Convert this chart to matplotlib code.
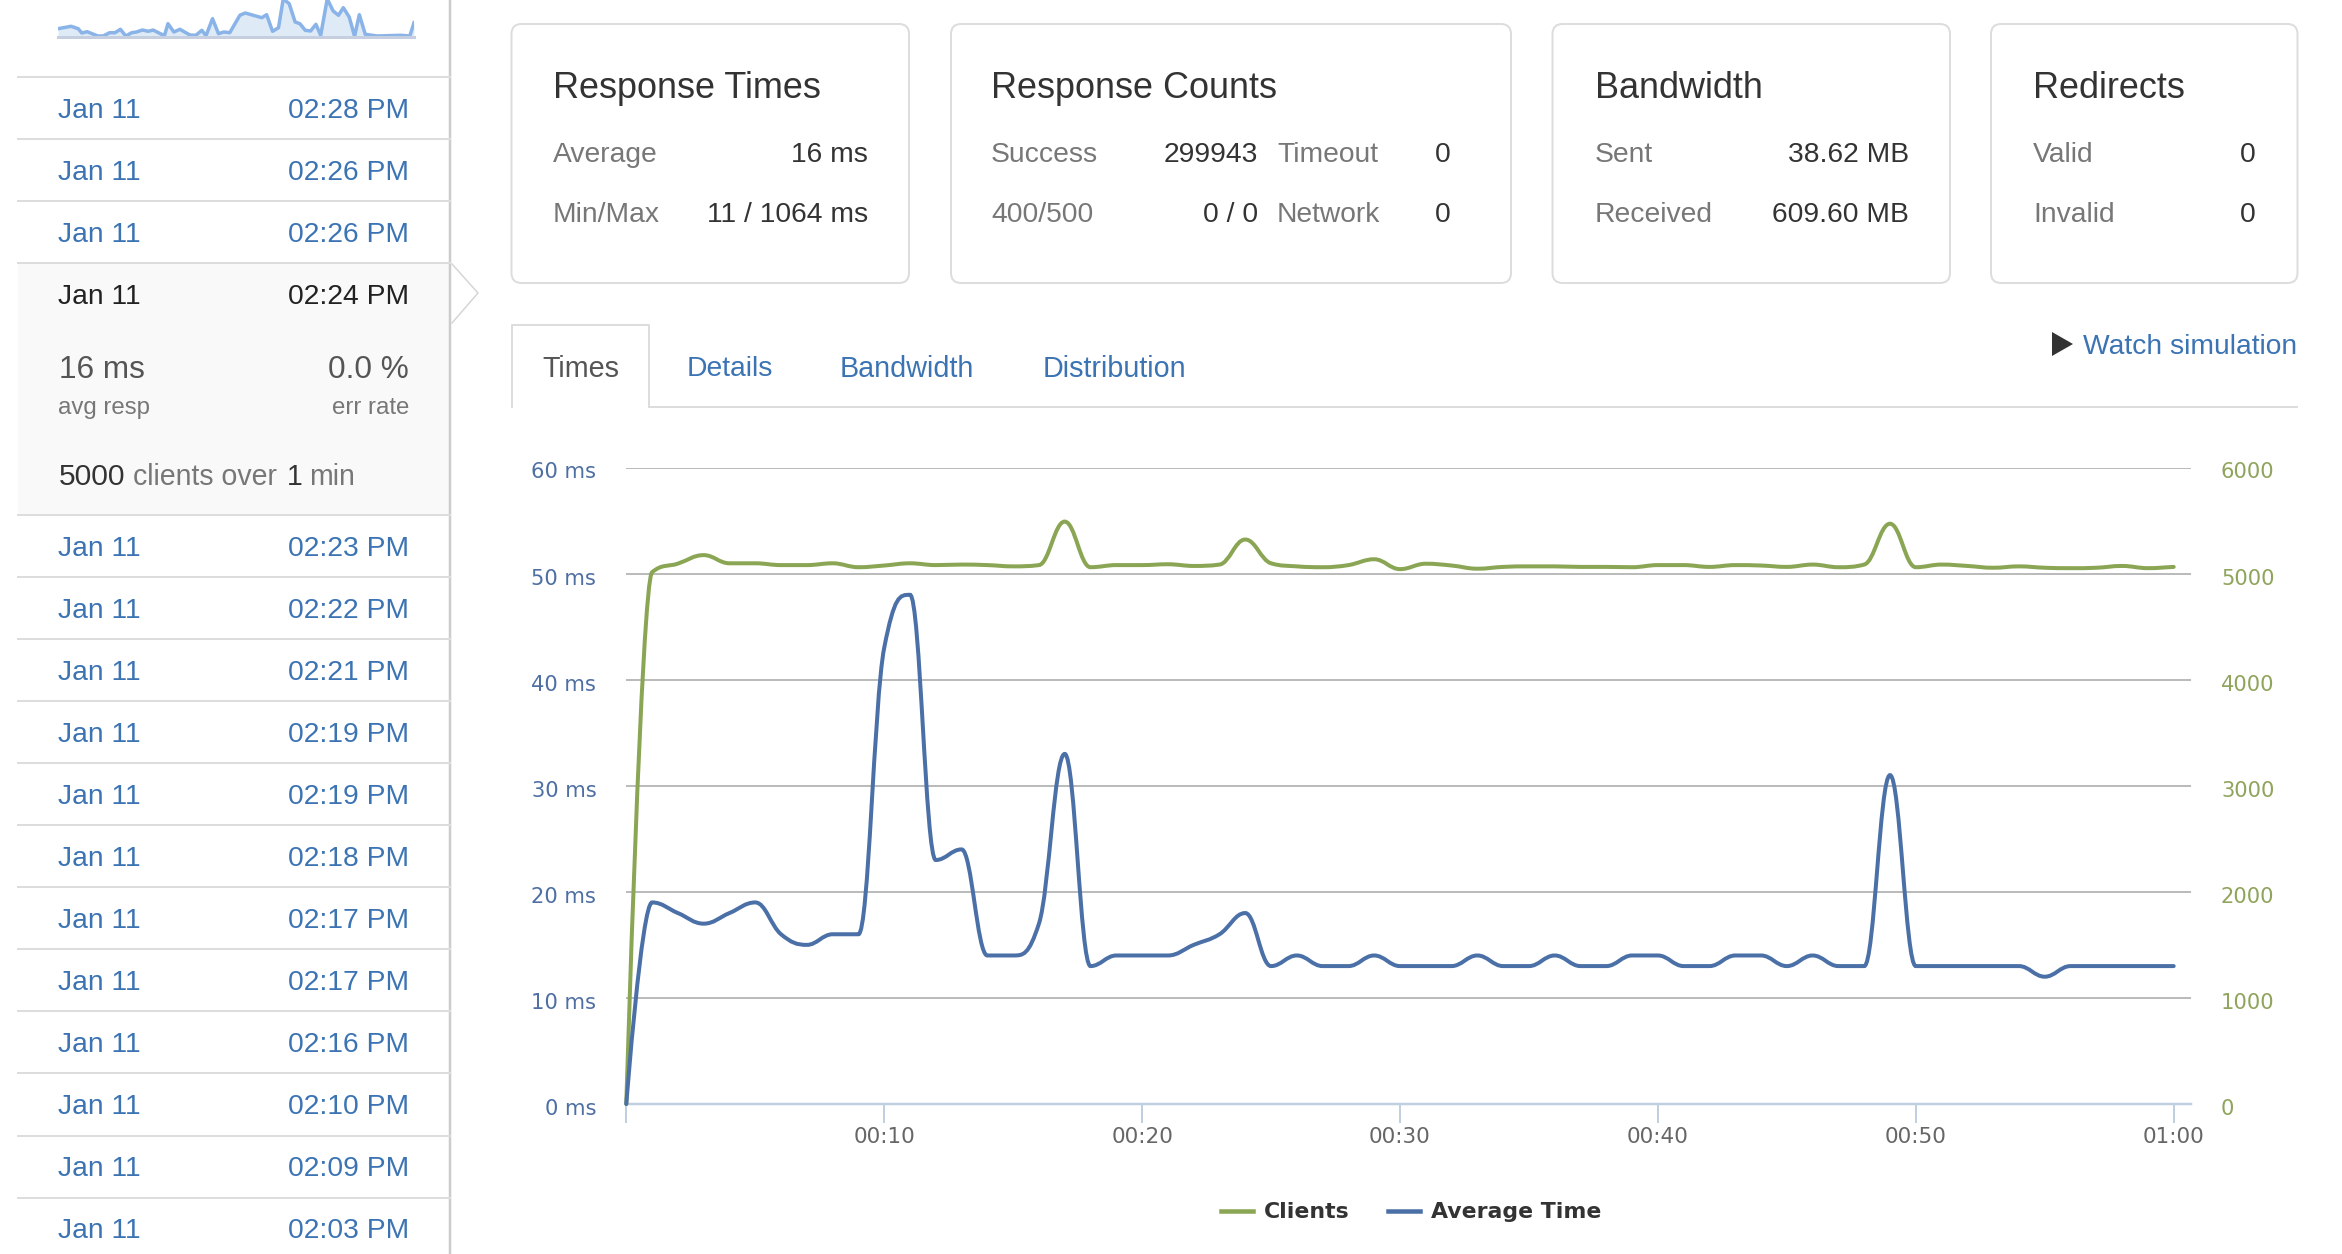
import matplotlib
matplotlib.use('Agg')
import matplotlib.pyplot as plt
from matplotlib.lines import Line2D
from matplotlib.patches import FancyBboxPatch, PathPatch, Polygon, Rectangle
from matplotlib.path import Path
from matplotlib.transforms import ScaledTranslation

W, H = 2342, 1254
BLUE = '#3c74b3'
DARK = '#333333'
GREY = '#777777'
LINE = '#dddddd'
GREEN_LINE = '#8aa553'
BLUE_LINE = '#4a70a7'

# one value per second, 0 to 60
seconds = list(range(61))
avg_time = [0, 19, 18, 17, 18, 19, 16, 15, 16, 16,
            43, 48, 23, 24, 14, 14, 17, 33, 13, 14,
            14, 14, 15, 16, 18, 13, 14, 13, 13, 14,
            13, 13, 13, 14, 13, 13, 14, 13, 13, 14,
            14, 13, 13, 14, 14, 13, 14, 13, 13, 31,
            13, 13, 13, 13, 13, 12, 13, 13, 13, 13, 13]
clients = [0, 5013, 5094, 5174, 5097, 5097, 5080, 5080, 5097, 5060,
           5076, 5097, 5080, 5085, 5080, 5068, 5080, 5490, 5060, 5080,
           5080, 5088, 5072, 5085, 5321, 5097, 5068, 5060, 5080, 5135,
           5042, 5093, 5076, 5046, 5063, 5068, 5068, 5063, 5063, 5060,
           5080, 5080, 5063, 5080, 5076, 5063, 5085, 5060, 5085, 5470,
           5060, 5085, 5072, 5055, 5068, 5055, 5051, 5055, 5072, 5051, 5063]

ms_ticks = [0, 10, 20, 30, 40, 50, 60]
client_ticks = [0, 1000, 2000, 3000, 4000, 5000, 6000]
time_ticks = [10, 20, 30, 40, 50, 60]
time_labels = ['00:10', '00:20', '00:30', '00:40', '00:50', '01:00']

# sparkline at the top of the sidebar
spark_t = [0, 2.2, 3.4, 4.0, 4.9, 6.7, 7.6, 8.7, 9.6, 10.5, 11.4, 12.4, 13.2, 14.2,
           15.2, 16.0, 17.9, 18.5, 19.5, 20.5, 22.2, 23.2, 24.2, 24.9, 26.0, 27.0,
           27.9, 28.9, 30.6, 31.5, 34.3, 35.1, 36.1, 37.1, 37.9, 38.9, 39.9, 40.7,
           41.6, 42.5, 43.4, 44.2, 45.3, 46.3, 47.2, 48.0, 49.0, 49.9, 50.7, 51.7,
           53.7, 57.6, 59.2, 59.9]
spark_v = [8.3, 10.7, 8.3, 4, 5.3, 1, 1, 4.3, 4.3, 7.7, 1, 4.3, 5, 7,
           5.7, 7, 1.3, 13.3, 5, 7.7, 2, 1.7, 6.7, 1.3, 18.3, 3.3,
           5, 4.3, 21.7, 24, 19.3, 22.3, 5.7, 9.3, 38, 33.3, 15, 13.3,
           6.7, 6, 12.7, 1.7, 38, 26, 21.7, 29.3, 20, 0.7, 22.3, 2.7,
           1, 1.7, 1, 14.3]

runs_before = ['02:28 PM', '02:26 PM', '02:26 PM']
run_selected = '02:24 PM'
runs_after = ['02:23 PM', '02:22 PM', '02:21 PM', '02:19 PM', '02:19 PM', '02:18 PM',
              '02:17 PM', '02:17 PM', '02:16 PM', '02:10 PM', '02:09 PM', '02:03 PM']
run_date = 'Jan 11'

plt.rcParams['font.family'] = ['Liberation Sans', 'DejaVu Sans']


def pt(px):
    return px * 0.72


def spline_path(xs, ys):
    # smooth curve through the points, flat at local peaks
    verts = [(xs[0], ys[0])]
    codes = [Path.MOVETO]
    right_prev = (xs[0], ys[0])
    for i in range(1, len(xs)):
        x, y = xs[i], ys[i]
        left_x, left_y = (1.5 * x + xs[i - 1]) / 2.5, (1.5 * y + ys[i - 1]) / 2.5
        right_x, right_y = x, y
        if i < len(xs) - 1:
            right_x, right_y = (1.5 * x + xs[i + 1]) / 2.5, (1.5 * y + ys[i + 1]) / 2.5
            fix = (right_y - left_y) * (right_x - x) / (right_x - left_x) + y - right_y
            left_y += fix
            right_y += fix
            if (left_y > ys[i - 1] and left_y > y) or (left_y < ys[i - 1] and left_y < y):
                left_y = max(ys[i - 1], y) if left_y > y else min(ys[i - 1], y)
                right_y = 2 * y - left_y
            if (right_y > ys[i + 1] and right_y > y) or (right_y < ys[i + 1] and right_y < y):
                right_y = max(ys[i + 1], y) if right_y > y else min(ys[i + 1], y)
                left_y = 2 * y - right_y
        verts += [right_prev, (left_x, left_y), (x, y)]
        codes += [Path.CURVE4] * 3
        right_prev = (right_x, right_y)
    return Path(verts, codes)


fig = plt.figure(figsize=(W / 100, H / 100), dpi=100, facecolor='white')

# page furniture is drawn in pixel coordinates
ui = fig.add_axes([0, 0, 1, 1])
ui.set_xlim(0, W)
ui.set_ylim(H, 0)
ui.axis('off')


def txt(x, y, s, size=28.3, color=DARK, ha='left', **kw):
    ui.text(x, y, s, fontsize=pt(size), color=color, ha=ha, va='center_baseline', **kw)


# sidebar
ui.add_patch(Rectangle((18, 263), 432, 252, fc='#f9f9f9', ec='none'))
ui.plot([450, 450], [0, H], color='#cccccc', lw=pt(2.5))
ui.plot([452, 478, 452], [264, 293, 323], color='#d5d5d5', lw=pt(1.5))
for y in [77, 139, 201, 263] + [515 + 62.05 * k for k in range(12)]:
    ui.plot([18, 450], [y, y], color=LINE, lw=pt(2))

for i, t in enumerate(runs_before):
    txt(58, 108 + 62 * i, run_date, color=BLUE)
    txt(409, 108 + 62 * i, t, color=BLUE, ha='right')
txt(58, 294, run_date, color='#222222')
txt(409, 294, run_selected, color='#222222', ha='right')
txt(59, 367, '16 ms', size=31.5, color='#555555')
txt(409, 367, '0.0 %', size=31.5, color='#555555', ha='right')
txt(58, 405.5, 'avg resp', size=24, color=GREY)
txt(409, 405.5, 'err rate', size=24, color=GREY, ha='right')
txt(59, 474, '5000', size=30)
txt(133, 474, 'clients over', size=28.5, color=GREY)
txt(287, 474, '1', size=28.5)
txt(309, 474, 'min', size=28.5, color=GREY)
for i, t in enumerate(runs_after):
    txt(58, 546 + 62 * i, run_date, color=BLUE)
    txt(409, 546 + 62 * i, t, color=BLUE, ha='right')

# summary cards
for x0, x1 in [(511.5, 909), (951, 1511), (1552.5, 1950), (1991, 2297.5)]:
    ui.add_patch(FancyBboxPatch((x0 + 10, 34), x1 - x0 - 20, 239, boxstyle='round,pad=10,rounding_size=10',
                                fc='white', ec=LINE, lw=pt(2)))

txt(553, 84, 'Response Times', size=36)
txt(553, 152, 'Average', color=GREY)
txt(868, 152, '16 ms', ha='right')
txt(553, 212, 'Min/Max', color=GREY)
txt(868, 212, '11 / 1064 ms', ha='right')

txt(991, 84, 'Response Counts', size=36)
txt(991, 152, 'Success', color=GREY)
txt(1258, 152, '299943', ha='right')
txt(1277, 152, 'Timeout', color=GREY)
txt(1451, 152, '0', ha='right')
txt(991, 212, '400/500', color=GREY)
txt(1258, 212, '0 / 0', ha='right')
txt(1277, 212, 'Network', color=GREY)
txt(1451, 212, '0', ha='right')

txt(1595, 84, 'Bandwidth', size=36)
txt(1595, 152, 'Sent', color=GREY)
txt(1909, 152, '38.62 MB', ha='right')
txt(1595, 212, 'Received', color=GREY)
txt(1909, 212, '609.60 MB', ha='right')

txt(2033, 84, 'Redirects', size=36)
txt(2033, 152, 'Valid', color=GREY)
txt(2256, 152, '0', ha='right')
txt(2033, 212, 'Invalid', color=GREY)
txt(2256, 212, '0', ha='right')

# tabs
ui.plot([649, 2297], [407, 407], color=LINE, lw=pt(2))
ui.plot([511.5, 511.5, 649, 649], [407, 325, 325, 407], color=LINE, lw=pt(2))
txt(542, 366, 'Times', size=28.8, color='#555555')
txt(687, 366, 'Details', size=28.3, color=BLUE)
txt(840, 366, 'Bandwidth', size=28.8, color=BLUE)
txt(1043, 366, 'Distribution', size=28.8, color=BLUE)
ui.add_patch(Polygon([(2052, 332), (2073, 344), (2052, 356)], closed=True, fc=DARK, ec='none'))
txt(2297, 344, 'Watch simulation', size=28.3, color=BLUE, ha='right')

# sparkline
spark = fig.add_axes([58 / W, 1 - 37 / H, 356 / W, 37 / H])
spark.patch.set_alpha(0)
spark.set_xlim(0, 59.9)
spark.set_ylim(0, 37)
spark.axis('off')
spark.fill_between(spark_t, spark_v, 0, color='#dfeaf7', lw=0)
spark.plot(spark_t, spark_v, color='#8ab4e8', lw=pt(3.5), clip_on=True)
spark.plot([0, 59.9], [0, 0], color='#c5cfe0', lw=pt(3), clip_on=False)

# main chart
x_left, x_right, y_top, y_zero = 626.3, 2191, 467.5, 1104
ax = fig.add_axes([x_left / W, 1 - y_zero / H, (x_right - x_left) / W, (y_zero - y_top) / H])
ax.patch.set_alpha(0)
ax.set_xlim(0, (x_right - x_left) / 25.79)
ax.set_ylim(0, 60)
for s in ['top', 'left', 'right']:
    ax.spines[s].set_visible(False)
ax.spines['bottom'].set_color('#c0d0e0')
ax.spines['bottom'].set_linewidth(pt(2.5))
ax.set_axisbelow(True)
ax.grid(axis='y', color='#bbbbbb', lw=pt(2))
ax.set_xticks(time_ticks, time_labels, family='DejaVu Sans', fontsize=pt(21.5), color='#666666')
ax.set_xticks([0], minor=True)
ax.tick_params(axis='x', which='both', length=pt(19), width=pt(2), color='#c0d0e0', pad=pt(4))
ax.set_yticks(ms_ticks, [f'{v} ms' for v in ms_ticks], family='DejaVu Sans', fontsize=pt(21), color='#4e6fa3')
ax.tick_params(axis='y', length=0, pad=pt(30))

ax2 = ax.twinx()
ax2.patch.set_alpha(0)
ax2.set_ylim(0, 6000)
for s in ax2.spines.values():
    s.set_visible(False)
ax2.set_yticks(client_ticks, [str(v) for v in client_ticks], family='DejaVu Sans', fontsize=pt(21), color='#8fa45c')
ax2.tick_params(axis='y', length=0, pad=pt(30))

# y labels sit a little below their gridlines
shift = ScaledTranslation(0, -3 / 100, fig.dpi_scale_trans)
for lab in ax.get_yticklabels() + ax2.get_yticklabels():
    lab.set_transform(lab.get_transform() + shift)

ax2.add_patch(PathPatch(spline_path(seconds, clients), fc='none', ec=GREEN_LINE, lw=pt(4), capstyle='round',
                        clip_on=False, zorder=3))
ax3 = ax.twinx()
ax3.patch.set_alpha(0)
ax3.set_ylim(0, 60)
ax3.axis('off')
ax3.add_patch(PathPatch(spline_path(seconds, avg_time), fc='none', ec=BLUE_LINE, lw=pt(4), capstyle='round',
                        clip_on=False, zorder=4))

handles = [Line2D([], [], color=GREEN_LINE, lw=pt(4.5)), Line2D([], [], color=BLUE_LINE, lw=pt(4.5))]
fig.legend(handles, ['Clients', 'Average Time'], loc='center', bbox_to_anchor=(1411 / W, 1 - 1212.5 / H),
           ncol=2, frameon=False, handlelength=1.45, handletextpad=0.5, columnspacing=1.75,
           prop={'family': 'DejaVu Sans', 'weight': 'bold', 'size': pt(22)}, labelcolor=DARK)

fig.savefig('out.png', dpi=100)
